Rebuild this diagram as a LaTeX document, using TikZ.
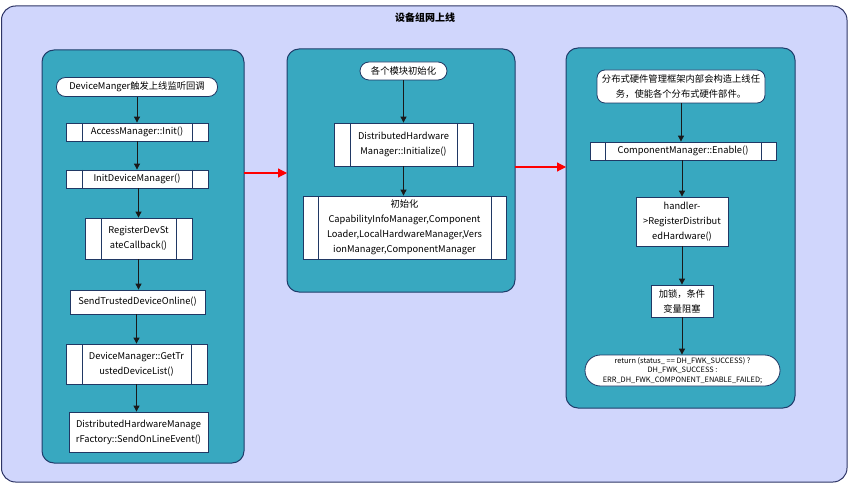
\documentclass[tikz,border=0pt]{standalone}
\usepackage{fontspec}
\setmainfont{Noto Sans CJK SC}
\usetikzlibrary{arrows.meta}
\definecolor{bgfill}{HTML}{D0D6FC}
\definecolor{bgline}{HTML}{2E3566}
\definecolor{panelfill}{HTML}{38A8C0}
\definecolor{panelline}{HTML}{1F3D6B}
\definecolor{nodeline}{HTML}{203864}
\tikzset{
  x=1pt, y=-1pt,
  panel/.style={draw=panelline, fill=panelfill, line width=1pt, rounded corners=12pt},
  base/.style={draw=nodeline, fill=white, line width=0.8pt, align=center, inner sep=1pt,
    font=\fontsize{9.3}{15}\selectfont, text=black},
  term/.style={base, rounded corners=8pt},
  plainbox/.style={base},
  procbox/.style={base, path picture={
     \draw[nodeline, line width=0.8pt]
       ([xshift=#1]path picture bounding box.north west) -- ([xshift=#1]path picture bounding box.south west)
       ([xshift=-#1]path picture bounding box.north east) -- ([xshift=-#1]path picture bounding box.south east);}},
  procbox/.default=16pt,
  flow/.style={draw=black!90, line width=0.9pt, -{Triangle[length=6pt,width=6pt]}},
  redflow/.style={draw=red, line width=1.2pt, -{Triangle[length=9pt,width=9pt]}},
}
\begin{document}
\begin{tikzpicture}
\useasboundingbox (0,0) rectangle (849,484);
\draw[draw=bgline, fill=bgfill, line width=1pt, rounded corners=14pt] (1.5,6) rectangle (847,482);
\node[font=\bfseries\fontsize{10}{12}\selectfont] (title) at (425,18) {设备组网上线};

% panels
\draw[panel] (42,50) rectangle (244,463);
\draw[panel] (287,49) rectangle (515,292);
\draw[panel] (566,48) rectangle (795,408);
\coordinate (p1e) at (244,173);
\coordinate (p2w) at (287,173);
\coordinate (p2e) at (515,167);
\coordinate (p3w) at (566,167);

% left column
\node[term, rounded corners=9pt, minimum width=161pt, minimum height=19pt] (l0) at (137,87) {DeviceManger触发上线监听回调};
\node[procbox, minimum width=142pt, minimum height=18pt] (l1) at (137,132) {AccessManager::Init()};
\node[procbox, minimum width=142pt, minimum height=18pt] (l2) at (137,179) {InitDeviceManager()};
\node[procbox, minimum width=107pt, minimum height=41pt] (l3) at (138.5,238.5) {RegisterDevSt\\ateCallback()};
\node[plainbox, minimum width=135pt, minimum height=24pt] (l4) at (137.5,302) {SendTrustedDeviceOnline()};
\node[procbox, minimum width=141pt, minimum height=40pt] (l5) at (136.5,364) {DeviceManager::GetTr\\ustedDeviceList()};
\node[plainbox, minimum width=139pt, minimum height=40pt] (l6) at (138.5,432) {DistributedHardwareManage\\rFactory::SendOnLineEvent()};

% middle column
\node[term, rounded corners=9pt, minimum width=87pt, minimum height=18pt] (m0) at (403.5,71) {各个模块初始化};
\node[procbox, minimum width=139pt, minimum height=43pt] (m1) at (403.5,144.5) {DistributedHardware\\Manager::Initialize()};
\node[procbox=15pt, minimum width=203pt, minimum height=63pt] (m2) at (404.5,227.5) {初始化\\CapabilityInfoManager,Component\\Loader,LocalHardwareManager,Vers\\ionManager,ComponentManager};

% right column
\node[term, minimum width=168pt, minimum height=33pt] (r0) at (681,86.5) {分布式硬件管理框架内部会构造上线任\\务，使能各个分布式硬件部件。};
\node[procbox=15pt, minimum width=186pt, minimum height=18pt] (r1) at (683,151) {ComponentManager::Enable()};
\node[plainbox, minimum width=92pt, minimum height=49pt] (r2) at (682,221.5) {handler-\\>RegisterDistribut\\edHardware()};
\node[plainbox, minimum width=62pt, minimum height=32pt] (r3) at (682,301) {加锁，条件\\变量阻塞};
\node[term, rounded corners=15.5pt, minimum width=195pt, minimum height=31pt, font=\fontsize{7.4}{9.6}\selectfont] (r4) at (682.5,370.5) {return (status\_ == DH\_FWK\_SUCCESS) ?\\DH\_FWK\_SUCCESS :\\ERR\_DH\_FWK\_COMPONENT\_ENABLE\_FAILED;};

% connectors
\draw[flow] (l0) -- (l1);
\draw[flow] (l1) -- (l2);
\draw[flow] (l2.south -| l3.north) -- (l3);
\draw[flow] (l3) -- (l4.north -| l3.south);
\draw[flow] (l4.south -| l5.north) -- (l5);
\draw[flow] (l5) -- (l6.north -| l5.south);
\draw[flow] (m0) -- (m1);
\draw[flow] (m1) -- (m2.north -| m1.south);
\draw[flow] (r0) -- (r0.south |- r1.north);
\draw[flow] (r1.south -| r2.north) -- (r2);
\draw[flow] (r2) -- (r3);
\draw[flow] (r3) -- (r3.south |- r4.north);
\draw[redflow] (p1e) -- (p2w);
\draw[redflow] (p2e) -- (p3w);
\end{tikzpicture}
\end{document}
